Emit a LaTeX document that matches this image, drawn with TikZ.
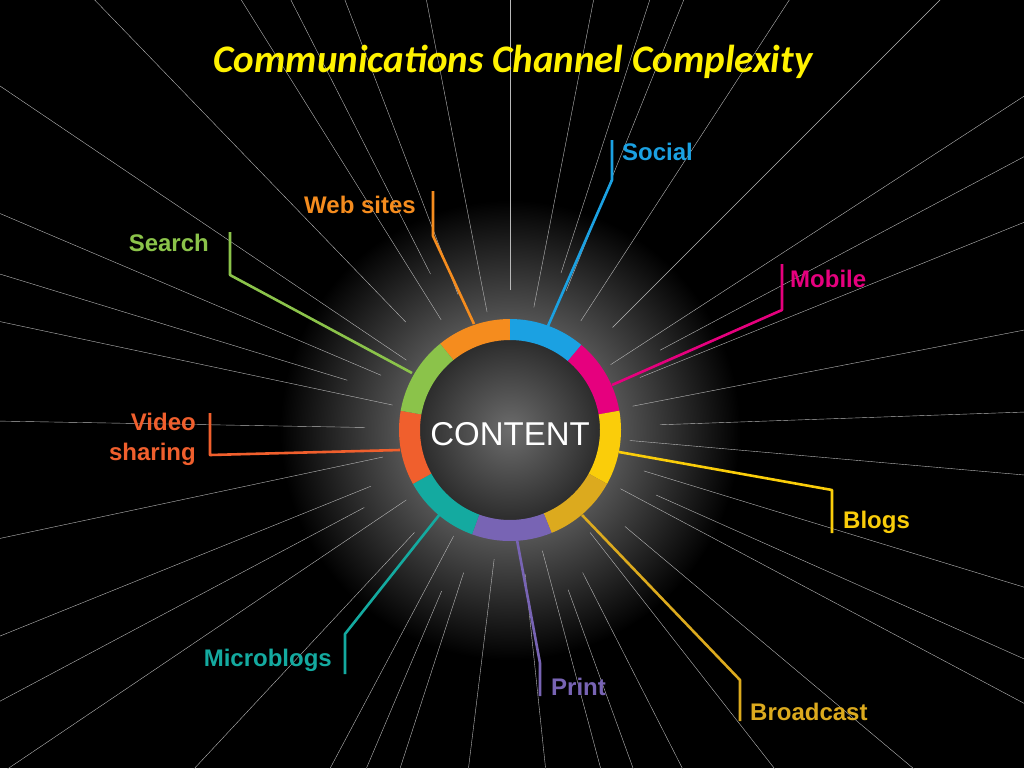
\documentclass[tikz,border=0pt]{standalone}
\usepackage{fontspec}
\setmainfont{Liberation Sans}
\newfontfamily\titlefont{Carlito}
\begin{document}
\begin{tikzpicture}[x=1pt,y=-1pt,
  lead/.style={line width=2.6pt,line join=round},
  lab/.style={font=\bfseries\fontsize{24}{30}\selectfont,inner sep=0pt,align=right}]
\definecolor{cBlue}{RGB}{27,161,226}
\definecolor{cOrange}{RGB}{245,140,30}
\definecolor{cGreen}{RGB}{139,195,74}
\definecolor{cMag}{RGB}{230,0,126}
\definecolor{cRed}{RGB}{240,95,45}
\definecolor{cYel}{RGB}{250,205,10}
\definecolor{cDYel}{RGB}{220,170,30}
\definecolor{cPur}{RGB}{120,100,180}
\definecolor{cTeal}{RGB}{20,170,160}
\fill[black] (0,0) rectangle (1024,768);
\useasboundingbox (0,0) rectangle (1024,768);
\begin{scope}
\clip (0,0) rectangle (1024,768);
\shade[inner color=gray!75,outer color=black] (510,430) circle[radius=230];
\foreach \a/\r in {5/120,17/140,28/125,40/150,52/130,63/160,75/125,84/145,97/130,108/150,118/120,133/140,146/125,158/150,168/130,181/145,192/120,203/140,214/125,226/150,238/130,249/145,259/120,270/140,281/125,292/150,303/130,315/145,327/120,338/140,349/125,-2/150,24/160,70/170,113/175,152/165,197/170,243/175,288/165,332/170}
  \draw[gray!55,line width=0.4pt] (510,430) ++(\a:\r) -- ++(\a:750);
\end{scope}
% ring
\fill[gray!40!black] (510,430) circle[radius=92];
\shade[inner color=gray!85!black,outer color=gray!35!black] (510,430) circle[radius=90];
\foreach \s/\e/\c in {90/129/cOrange,50/90/cBlue,10/50/cMag,-29/10/cYel,-68/-29/cDYel,-110/-68/cPur,-151/-110/cTeal,-190/-151/cRed,-231/-190/cGreen}
  \fill[\c] (510,430) ++(-\s:111) arc[start angle=-\s,end angle=-\e,radius=111] -- ++(-\e:-21) arc[start angle=-\e,end angle=-\s,radius=90] -- cycle;
\node[font=\fontsize{33}{38}\selectfont,white] (c) at (510,434) {CONTENT};
% title
\node[font=\titlefont\bfseries\itshape\fontsize{39}{44}\selectfont,yellow] (t) at (513,62) {Communications Channel Complexity};
% leaders
\coordinate (s0) at (548,326); \coordinate (s1) at (612,180); \coordinate (s2) at (612,140);
\draw[lead,cBlue] (s0)--(s1)--(s2);
\node[lab,cBlue,anchor=west] (ls) at (622,152) {Social};
\coordinate (w0) at (474,324); \coordinate (w1) at (433,236); \coordinate (w2) at (433,191);
\draw[lead,cOrange] (w0)--(w1)--(w2);
\node[lab,cOrange,anchor=east] (lw) at (416,205) {Web sites};
\coordinate (g0) at (412,373); \coordinate (g1) at (230,275); \coordinate (g2) at (230,232);
\draw[lead,cGreen] (g0)--(g1)--(g2);
\node[lab,cGreen,anchor=east] (lg) at (209,243) {Search};
\coordinate (m0) at (612,385); \coordinate (m1) at (782,310); \coordinate (m2) at (782,264);
\draw[lead,cMag] (m0)--(m1)--(m2);
\node[lab,cMag,anchor=west] (lm) at (790,279) {Mobile};
\coordinate (v0) at (400,450); \coordinate (v1) at (210,455); \coordinate (v2) at (210,413);
\draw[lead,cRed] (v0)--(v1)--(v2);
\node[lab,cRed,anchor=east] (lv) at (196,439) {Video\\sharing};
\coordinate (b0) at (619,452); \coordinate (b1) at (832,490); \coordinate (b2) at (832,533);
\draw[lead,cYel] (b0)--(b1)--(b2);
\node[lab,cYel,anchor=west] (lb) at (843,522) {Blogs};
\coordinate (r0) at (582,515); \coordinate (r1) at (740,680); \coordinate (r2) at (740,721);
\draw[lead,cDYel] (r0)--(r1)--(r2);
\node[lab,cDYel,anchor=west] (lr) at (750,712) {Broadcast};
\coordinate (p0) at (517,540); \coordinate (p1) at (540,663); \coordinate (p2) at (540,696);
\draw[lead,cPur] (p0)--(p1)--(p2);
\node[lab,cPur,anchor=west] (lp) at (551,687) {Print};
\coordinate (t0) at (440,514); \coordinate (t1) at (345,634); \coordinate (t2) at (345,674);
\draw[lead,cTeal] (t0)--(t1)--(t2);
\node[lab,cTeal,anchor=east] (lt) at (332,660) {Microblogs};
\end{tikzpicture}
\end{document}
